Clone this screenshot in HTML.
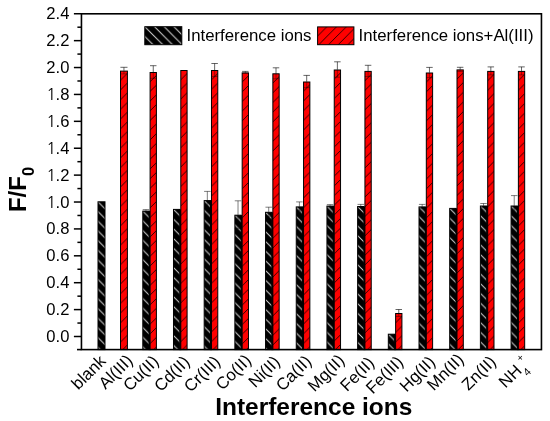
<!DOCTYPE html><html><head><meta charset="utf-8"><style>
html,body{margin:0;padding:0;background:#fff;width:550px;height:421px;overflow:hidden}
svg{display:block}
text{font-family:"Liberation Sans", Arial, sans-serif;fill:#000}
</style></head><body>
<svg width="550" height="421" viewBox="0 0 550 421">
<defs>
<pattern id="hb" patternUnits="userSpaceOnUse" width="9.70" height="9.70"><rect width="10.70" height="10.70" fill="#000"/><path d="M-2,-2 L11.70,11.70 M7.70,-2 L11.70,2.00 M-2,7.70 L2.00,11.70" stroke="#d4d4d4" stroke-width="1"/></pattern>
<pattern id="hr" patternUnits="userSpaceOnUse" width="9.70" height="9.70" patternTransform="translate(0.5 0)"><rect width="10.70" height="10.70" fill="#ff0000"/><path d="M-2,11.70 L11.70,-2 M-2,2 L2,-2 M7.70,11.70 L11.70,7.70" stroke="#1a0000" stroke-width="0.9"/></pattern>
</defs>
<g transform="translate(97.50,201.30)"><rect x="0.5" y="0.5" width="7.00" height="147.80" fill="url(#hb)" stroke="#000" stroke-width="1"/></g>
<g transform="translate(120.00,70.60)"><rect x="0.5" y="0.5" width="6.90" height="278.50" fill="url(#hr)" stroke="#000" stroke-width="1"/></g>
<path d="M123.95,67.30 V70.60 M120.40,67.30 H127.50" stroke="#000" stroke-opacity="0.6" stroke-width="1" fill="none"/>
<path d="M123.95,70.60 V73.90 M120.40,73.90 H127.50" stroke="#000" stroke-opacity="0.35" stroke-width="1" fill="none"/>
<rect x="148.60" y="211.10" width="2" height="139.00" fill="#000"/>
<g transform="translate(142.30,210.60)"><rect x="0.5" y="0.5" width="6.30" height="138.50" fill="url(#hb)" stroke="#000" stroke-width="1"/></g>
<g transform="translate(149.60,72.00)"><rect x="0.5" y="0.5" width="6.30" height="277.10" fill="url(#hr)" stroke="#000" stroke-width="1"/></g>
<path d="M145.95,209.60 V210.60 M142.70,209.60 H149.20" stroke="#000" stroke-opacity="0.5" stroke-width="1" fill="none"/>
<path d="M145.95,210.60 V211.60 M142.70,211.60 H149.20" stroke="#000" stroke-opacity="0.35" stroke-width="1" fill="none"/>
<path d="M153.25,65.70 V72.00 M150.00,65.70 H156.50" stroke="#000" stroke-opacity="0.6" stroke-width="1" fill="none"/>
<path d="M153.25,72.00 V78.30 M150.00,78.30 H156.50" stroke="#000" stroke-opacity="0.35" stroke-width="1" fill="none"/>
<rect x="179.29" y="209.40" width="2" height="140.70" fill="#000"/>
<g transform="translate(172.99,208.90)"><rect x="0.5" y="0.5" width="6.30" height="140.20" fill="url(#hb)" stroke="#000" stroke-width="1"/></g>
<g transform="translate(180.29,70.00)"><rect x="0.5" y="0.5" width="6.30" height="279.10" fill="url(#hr)" stroke="#000" stroke-width="1"/></g>
<rect x="209.98" y="200.60" width="2" height="149.50" fill="#000"/>
<g transform="translate(203.68,200.10)"><rect x="0.5" y="0.5" width="6.30" height="149.00" fill="url(#hb)" stroke="#000" stroke-width="1"/></g>
<g transform="translate(210.98,70.00)"><rect x="0.5" y="0.5" width="6.30" height="279.10" fill="url(#hr)" stroke="#000" stroke-width="1"/></g>
<path d="M207.33,191.40 V200.10 M204.08,191.40 H210.58" stroke="#000" stroke-opacity="0.5" stroke-width="1" fill="none"/>
<path d="M207.33,200.10 V208.80 M204.08,208.80 H210.58" stroke="#000" stroke-opacity="0.35" stroke-width="1" fill="none"/>
<path d="M214.63,63.50 V70.00 M211.38,63.50 H217.88" stroke="#000" stroke-opacity="0.6" stroke-width="1" fill="none"/>
<path d="M214.63,70.00 V76.50 M211.38,76.50 H217.88" stroke="#000" stroke-opacity="0.35" stroke-width="1" fill="none"/>
<rect x="240.67" y="215.20" width="2" height="134.90" fill="#000"/>
<g transform="translate(234.37,214.70)"><rect x="0.5" y="0.5" width="6.30" height="134.40" fill="url(#hb)" stroke="#000" stroke-width="1"/></g>
<g transform="translate(241.67,72.40)"><rect x="0.5" y="0.5" width="6.30" height="276.70" fill="url(#hr)" stroke="#000" stroke-width="1"/></g>
<path d="M238.02,200.80 V214.70 M234.77,200.80 H241.27" stroke="#000" stroke-opacity="0.5" stroke-width="1" fill="none"/>
<path d="M238.02,214.70 V228.60 M234.77,228.60 H241.27" stroke="#000" stroke-opacity="0.35" stroke-width="1" fill="none"/>
<path d="M245.32,71.40 V72.40 M242.07,71.40 H248.57" stroke="#000" stroke-opacity="0.6" stroke-width="1" fill="none"/>
<path d="M245.32,72.40 V73.40 M242.07,73.40 H248.57" stroke="#000" stroke-opacity="0.35" stroke-width="1" fill="none"/>
<rect x="271.36" y="212.30" width="2" height="137.80" fill="#000"/>
<g transform="translate(265.06,211.80)"><rect x="0.5" y="0.5" width="6.30" height="137.30" fill="url(#hb)" stroke="#000" stroke-width="1"/></g>
<g transform="translate(272.36,73.30)"><rect x="0.5" y="0.5" width="6.30" height="275.80" fill="url(#hr)" stroke="#000" stroke-width="1"/></g>
<path d="M268.71,207.20 V211.80 M265.46,207.20 H271.96" stroke="#000" stroke-opacity="0.5" stroke-width="1" fill="none"/>
<path d="M268.71,211.80 V216.40 M265.46,216.40 H271.96" stroke="#000" stroke-opacity="0.35" stroke-width="1" fill="none"/>
<path d="M276.01,67.80 V73.30 M272.76,67.80 H279.26" stroke="#000" stroke-opacity="0.6" stroke-width="1" fill="none"/>
<path d="M276.01,73.30 V78.80 M272.76,78.80 H279.26" stroke="#000" stroke-opacity="0.35" stroke-width="1" fill="none"/>
<rect x="302.05" y="206.90" width="2" height="143.20" fill="#000"/>
<g transform="translate(295.75,206.40)"><rect x="0.5" y="0.5" width="6.30" height="142.70" fill="url(#hb)" stroke="#000" stroke-width="1"/></g>
<g transform="translate(303.05,81.50)"><rect x="0.5" y="0.5" width="6.30" height="267.60" fill="url(#hr)" stroke="#000" stroke-width="1"/></g>
<path d="M299.40,201.90 V206.40 M296.15,201.90 H302.65" stroke="#000" stroke-opacity="0.5" stroke-width="1" fill="none"/>
<path d="M299.40,206.40 V210.90 M296.15,210.90 H302.65" stroke="#000" stroke-opacity="0.35" stroke-width="1" fill="none"/>
<path d="M306.70,75.40 V81.50 M303.45,75.40 H309.95" stroke="#000" stroke-opacity="0.6" stroke-width="1" fill="none"/>
<path d="M306.70,81.50 V87.60 M303.45,87.60 H309.95" stroke="#000" stroke-opacity="0.35" stroke-width="1" fill="none"/>
<rect x="332.74" y="206.10" width="2" height="144.00" fill="#000"/>
<g transform="translate(326.44,205.60)"><rect x="0.5" y="0.5" width="6.30" height="143.50" fill="url(#hb)" stroke="#000" stroke-width="1"/></g>
<g transform="translate(333.74,69.50)"><rect x="0.5" y="0.5" width="6.30" height="279.60" fill="url(#hr)" stroke="#000" stroke-width="1"/></g>
<path d="M330.09,204.60 V205.60 M326.84,204.60 H333.34" stroke="#000" stroke-opacity="0.5" stroke-width="1" fill="none"/>
<path d="M330.09,205.60 V206.60 M326.84,206.60 H333.34" stroke="#000" stroke-opacity="0.35" stroke-width="1" fill="none"/>
<path d="M337.39,61.80 V69.50 M334.14,61.80 H340.64" stroke="#000" stroke-opacity="0.6" stroke-width="1" fill="none"/>
<path d="M337.39,69.50 V77.20 M334.14,77.20 H340.64" stroke="#000" stroke-opacity="0.35" stroke-width="1" fill="none"/>
<rect x="363.43" y="206.50" width="2" height="143.60" fill="#000"/>
<g transform="translate(357.13,206.00)"><rect x="0.5" y="0.5" width="6.30" height="143.10" fill="url(#hb)" stroke="#000" stroke-width="1"/></g>
<g transform="translate(364.43,70.90)"><rect x="0.5" y="0.5" width="6.30" height="278.20" fill="url(#hr)" stroke="#000" stroke-width="1"/></g>
<path d="M360.78,204.40 V206.00 M357.53,204.40 H364.03" stroke="#000" stroke-opacity="0.5" stroke-width="1" fill="none"/>
<path d="M360.78,206.00 V207.60 M357.53,207.60 H364.03" stroke="#000" stroke-opacity="0.35" stroke-width="1" fill="none"/>
<path d="M368.08,65.30 V70.90 M364.83,65.30 H371.33" stroke="#000" stroke-opacity="0.6" stroke-width="1" fill="none"/>
<path d="M368.08,70.90 V76.50 M364.83,76.50 H371.33" stroke="#000" stroke-opacity="0.35" stroke-width="1" fill="none"/>
<rect x="394.12" y="334.20" width="2" height="15.90" fill="#000"/>
<g transform="translate(387.82,333.70)"><rect x="0.5" y="0.5" width="6.30" height="15.40" fill="url(#hb)" stroke="#000" stroke-width="1"/></g>
<g transform="translate(395.12,313.00)"><rect x="0.5" y="0.5" width="6.30" height="36.10" fill="url(#hr)" stroke="#000" stroke-width="1"/></g>
<path d="M398.77,309.50 V313.00 M395.52,309.50 H402.02" stroke="#000" stroke-opacity="0.6" stroke-width="1" fill="none"/>
<path d="M398.77,313.00 V316.50 M395.52,316.50 H402.02" stroke="#000" stroke-opacity="0.35" stroke-width="1" fill="none"/>
<rect x="424.81" y="206.90" width="2" height="143.20" fill="#000"/>
<g transform="translate(418.51,206.40)"><rect x="0.5" y="0.5" width="6.30" height="142.70" fill="url(#hb)" stroke="#000" stroke-width="1"/></g>
<g transform="translate(425.81,72.50)"><rect x="0.5" y="0.5" width="6.30" height="276.60" fill="url(#hr)" stroke="#000" stroke-width="1"/></g>
<path d="M422.16,204.40 V206.40 M418.91,204.40 H425.41" stroke="#000" stroke-opacity="0.5" stroke-width="1" fill="none"/>
<path d="M422.16,206.40 V208.40 M418.91,208.40 H425.41" stroke="#000" stroke-opacity="0.35" stroke-width="1" fill="none"/>
<path d="M429.46,67.40 V72.50 M426.21,67.40 H432.71" stroke="#000" stroke-opacity="0.6" stroke-width="1" fill="none"/>
<path d="M429.46,72.50 V77.60 M426.21,77.60 H432.71" stroke="#000" stroke-opacity="0.35" stroke-width="1" fill="none"/>
<rect x="455.50" y="208.40" width="2" height="141.70" fill="#000"/>
<g transform="translate(449.20,207.90)"><rect x="0.5" y="0.5" width="6.30" height="141.20" fill="url(#hb)" stroke="#000" stroke-width="1"/></g>
<g transform="translate(456.50,69.40)"><rect x="0.5" y="0.5" width="6.30" height="279.70" fill="url(#hr)" stroke="#000" stroke-width="1"/></g>
<path d="M460.15,67.30 V69.40 M456.90,67.30 H463.40" stroke="#000" stroke-opacity="0.6" stroke-width="1" fill="none"/>
<path d="M460.15,69.40 V71.50 M456.90,71.50 H463.40" stroke="#000" stroke-opacity="0.35" stroke-width="1" fill="none"/>
<rect x="486.19" y="206.00" width="2" height="144.10" fill="#000"/>
<g transform="translate(479.89,205.50)"><rect x="0.5" y="0.5" width="6.30" height="143.60" fill="url(#hb)" stroke="#000" stroke-width="1"/></g>
<g transform="translate(487.19,70.90)"><rect x="0.5" y="0.5" width="6.30" height="278.20" fill="url(#hr)" stroke="#000" stroke-width="1"/></g>
<path d="M483.54,203.50 V205.50 M480.29,203.50 H486.79" stroke="#000" stroke-opacity="0.5" stroke-width="1" fill="none"/>
<path d="M483.54,205.50 V207.50 M480.29,207.50 H486.79" stroke="#000" stroke-opacity="0.35" stroke-width="1" fill="none"/>
<path d="M490.84,66.90 V70.90 M487.59,66.90 H494.09" stroke="#000" stroke-opacity="0.6" stroke-width="1" fill="none"/>
<path d="M490.84,70.90 V74.90 M487.59,74.90 H494.09" stroke="#000" stroke-opacity="0.35" stroke-width="1" fill="none"/>
<rect x="516.88" y="206.00" width="2" height="144.10" fill="#000"/>
<g transform="translate(510.58,205.50)"><rect x="0.5" y="0.5" width="6.30" height="143.60" fill="url(#hb)" stroke="#000" stroke-width="1"/></g>
<g transform="translate(517.88,70.90)"><rect x="0.5" y="0.5" width="6.30" height="278.20" fill="url(#hr)" stroke="#000" stroke-width="1"/></g>
<path d="M514.23,195.60 V205.50 M510.98,195.60 H517.48" stroke="#000" stroke-opacity="0.5" stroke-width="1" fill="none"/>
<path d="M514.23,205.50 V215.40 M510.98,215.40 H517.48" stroke="#000" stroke-opacity="0.35" stroke-width="1" fill="none"/>
<path d="M521.53,66.90 V70.90 M518.28,66.90 H524.78" stroke="#000" stroke-opacity="0.6" stroke-width="1" fill="none"/>
<path d="M521.53,70.90 V74.90 M518.28,74.90 H524.78" stroke="#000" stroke-opacity="0.35" stroke-width="1" fill="none"/>
<rect x="81.45" y="13.80" width="460.00" height="335.80" fill="none" stroke="#000" stroke-width="1.6"/>
<line x1="77" y1="349.60" x2="81.45" y2="349.60" stroke="#000" stroke-width="1.6"/>
<line x1="73.9" y1="336.50" x2="81.45" y2="336.50" stroke="#000" stroke-width="1.5"/>
<text x="69.4" y="342.00" font-size="16.6" text-anchor="end">0.0</text>
<line x1="73.9" y1="309.60" x2="81.45" y2="309.60" stroke="#000" stroke-width="1.5"/>
<text x="69.4" y="315.10" font-size="16.6" text-anchor="end">0.2</text>
<line x1="73.9" y1="282.71" x2="81.45" y2="282.71" stroke="#000" stroke-width="1.5"/>
<text x="69.4" y="288.21" font-size="16.6" text-anchor="end">0.4</text>
<line x1="73.9" y1="255.81" x2="81.45" y2="255.81" stroke="#000" stroke-width="1.5"/>
<text x="69.4" y="261.31" font-size="16.6" text-anchor="end">0.6</text>
<line x1="73.9" y1="228.92" x2="81.45" y2="228.92" stroke="#000" stroke-width="1.5"/>
<text x="69.4" y="234.42" font-size="16.6" text-anchor="end">0.8</text>
<line x1="73.9" y1="202.02" x2="81.45" y2="202.02" stroke="#000" stroke-width="1.5"/>
<text x="69.4" y="207.52" font-size="16.6" text-anchor="end"><tspan font-family="NanumGothic, 'Liberation Sans', sans-serif" dx="0">1</tspan><tspan dx="-0.83">.0</tspan></text>
<line x1="73.9" y1="175.12" x2="81.45" y2="175.12" stroke="#000" stroke-width="1.5"/>
<text x="69.4" y="180.62" font-size="16.6" text-anchor="end"><tspan font-family="NanumGothic, 'Liberation Sans', sans-serif" dx="0">1</tspan><tspan dx="-0.83">.2</tspan></text>
<line x1="73.9" y1="148.23" x2="81.45" y2="148.23" stroke="#000" stroke-width="1.5"/>
<text x="69.4" y="153.73" font-size="16.6" text-anchor="end"><tspan font-family="NanumGothic, 'Liberation Sans', sans-serif" dx="0">1</tspan><tspan dx="-0.83">.4</tspan></text>
<line x1="73.9" y1="121.33" x2="81.45" y2="121.33" stroke="#000" stroke-width="1.5"/>
<text x="69.4" y="126.83" font-size="16.6" text-anchor="end"><tspan font-family="NanumGothic, 'Liberation Sans', sans-serif" dx="0">1</tspan><tspan dx="-0.83">.6</tspan></text>
<line x1="73.9" y1="94.44" x2="81.45" y2="94.44" stroke="#000" stroke-width="1.5"/>
<text x="69.4" y="99.94" font-size="16.6" text-anchor="end"><tspan font-family="NanumGothic, 'Liberation Sans', sans-serif" dx="0">1</tspan><tspan dx="-0.83">.8</tspan></text>
<line x1="73.9" y1="67.54" x2="81.45" y2="67.54" stroke="#000" stroke-width="1.5"/>
<text x="69.4" y="73.04" font-size="16.6" text-anchor="end">2.0</text>
<line x1="73.9" y1="40.65" x2="81.45" y2="40.65" stroke="#000" stroke-width="1.5"/>
<text x="69.4" y="46.15" font-size="16.6" text-anchor="end">2.2</text>
<line x1="73.9" y1="13.75" x2="81.45" y2="13.75" stroke="#000" stroke-width="1.5"/>
<text x="69.4" y="19.25" font-size="16.6" text-anchor="end">2.4</text>
<line x1="77.4" y1="323.05" x2="81.45" y2="323.05" stroke="#000" stroke-width="1.5"/>
<line x1="77.4" y1="296.16" x2="81.45" y2="296.16" stroke="#000" stroke-width="1.5"/>
<line x1="77.4" y1="269.26" x2="81.45" y2="269.26" stroke="#000" stroke-width="1.5"/>
<line x1="77.4" y1="242.36" x2="81.45" y2="242.36" stroke="#000" stroke-width="1.5"/>
<line x1="77.4" y1="215.47" x2="81.45" y2="215.47" stroke="#000" stroke-width="1.5"/>
<line x1="77.4" y1="188.57" x2="81.45" y2="188.57" stroke="#000" stroke-width="1.5"/>
<line x1="77.4" y1="161.68" x2="81.45" y2="161.68" stroke="#000" stroke-width="1.5"/>
<line x1="77.4" y1="134.78" x2="81.45" y2="134.78" stroke="#000" stroke-width="1.5"/>
<line x1="77.4" y1="107.89" x2="81.45" y2="107.89" stroke="#000" stroke-width="1.5"/>
<line x1="77.4" y1="80.99" x2="81.45" y2="80.99" stroke="#000" stroke-width="1.5"/>
<line x1="77.4" y1="54.09" x2="81.45" y2="54.09" stroke="#000" stroke-width="1.5"/>
<line x1="77.4" y1="27.20" x2="81.45" y2="27.20" stroke="#000" stroke-width="1.5"/>
<g transform="translate(144.3,26.2)"><rect x="0.5" y="0.5" width="37" height="18" fill="url(#hb)" stroke="#000" stroke-width="1"/></g>
<text x="186.5" y="41.3" font-size="16.8">Interference ions</text>
<g transform="translate(317.1,26.4)"><rect x="0.5" y="0.5" width="36.3" height="17.8" fill="url(#hr)" stroke="#000" stroke-width="1"/></g>
<text x="358.6" y="41.3" font-size="16.8">Interference ions+Al(III)</text>
<text x="215.2" y="414.7" font-size="24" font-weight="bold" textLength="197.2" lengthAdjust="spacingAndGlyphs">Interference ions</text>
<text transform="translate(26.3,212.1) rotate(-90)" font-size="24" font-weight="bold">F/F<tspan dy="8" font-size="16.5">0</tspan></text>
<text transform="translate(106.70,362.10) rotate(-45)" font-size="16.8" text-anchor="end">blank</text>
<text transform="translate(133.80,361.60) rotate(-45)" font-size="16.8" text-anchor="end">Al(III)</text>
<text transform="translate(159.60,362.40) rotate(-45)" font-size="16.8" text-anchor="end">Cu(II)</text>
<text transform="translate(190.59,362.90) rotate(-45)" font-size="16.8" text-anchor="end">Cd(II)</text>
<text transform="translate(221.18,362.80) rotate(-45)" font-size="16.8" text-anchor="end">Cr(III)</text>
<text transform="translate(252.17,361.40) rotate(-45)" font-size="16.8" text-anchor="end">Co(II)</text>
<text transform="translate(281.06,362.90) rotate(-45)" font-size="16.8" text-anchor="end">Ni(II)</text>
<text transform="translate(312.35,362.30) rotate(-45)" font-size="16.8" text-anchor="end">Ca(II)</text>
<text transform="translate(345.54,361.40) rotate(-45)" font-size="16.8" text-anchor="end">Mg(II)</text>
<text transform="translate(375.33,363.90) rotate(-45)" font-size="16.8" text-anchor="end">Fe(II)</text>
<text transform="translate(404.32,363.00) rotate(-45)" font-size="16.8" text-anchor="end">Fe(III)</text>
<text transform="translate(436.11,363.00) rotate(-45)" font-size="16.8" text-anchor="end">Hg(II)</text>
<text transform="translate(464.80,360.50) rotate(-45)" font-size="16.8" text-anchor="end">Mn(II)</text>
<text transform="translate(496.89,362.80) rotate(-45)" font-size="16.8" text-anchor="end">Zn(II)</text>
<text transform="translate(505.60,388.80) rotate(-45)" font-size="16.8">NH<tspan dx="-0.3" dy="7" font-size="11">4</tspan><tspan dx="-0.8" dy="-15.3" font-size="10">+</tspan></text>
</svg></body></html>
